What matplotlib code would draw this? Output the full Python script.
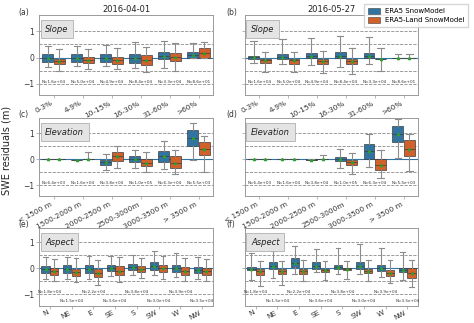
import matplotlib
matplotlib.use("Agg")
import matplotlib.pyplot as plt
from matplotlib.patches import Patch
from matplotlib.transforms import ScaledTranslation

# ---- categories -------------------------------------------------------
slope_cats = ["0-3%", "4-9%", "10-15%", "16-30%", "31-60%", ">60%"]
elev_cats = ["< 1500 m", "1500-2000 m", "2000-2500 m", "2500-3000m",
             "3000-3500 m", "> 3500 m"]
aspect_cats = ["N", "NE", "E", "SE", "S", "SW", "W", "NW"]

dates = ["2016-04-01", "2016-05-27"]
series_names = ["ERA5 SnowModel", "ERA5-Land SnowModel"]

# sample counts per class
slope_n = ["N=1.6e+04", "N=5.0e+04", "N=4.9e+04", "N=8.4e+04", "N=3.3e+04", "N=8.6e+01"]
elev_n = ["N=6.4e+03", "N=1.6e+04", "N=3.8e+04", "N=1.0e+05", "N=6.3e+04", "N=5.5e+03"]
aspect_n = ["N=1.8e+04", "N=1.5e+04", "N=2.2e+04", "N=3.6e+04",
            "N=3.8e+04", "N=3.0e+04", "N=3.9e+04", "N=3.5e+04"]

# ---- box statistics: (whisker low, q1, median, q3, whisker high) -------
slope_apr_era5 = [(-0.36, -0.15, 0.00, 0.13, 0.45), (-0.30, -0.15, 0.00, 0.15, 0.45),
                  (-0.32, -0.15, 0.00, 0.13, 0.49), (-0.41, -0.19, -0.02, 0.15, 0.60),
                  (-0.41, -0.06, 0.08, 0.22, 0.64), (0.00, 0.00, 0.10, 0.23, 0.54)]
slope_apr_land = [(-0.49, -0.26, -0.12, -0.04, 0.32), (-0.42, -0.22, -0.08, 0.04, 0.32),
                  (-0.45, -0.23, -0.08, 0.04, 0.38), (-0.55, -0.28, -0.10, 0.09, 0.42),
                  (-0.51, -0.13, 0.03, 0.19, 0.54), (0.00, 0.00, 0.18, 0.36, 0.58)]
slope_may_era5 = [(-0.22, -0.04, 0.01, 0.06, 0.64), (-0.23, -0.04, 0.04, 0.13, 0.70),
                  (-0.28, -0.03, 0.06, 0.17, 0.73), (-0.36, -0.03, 0.08, 0.23, 0.83),
                  (-0.23, -0.03, 0.07, 0.19, 0.79), (0.00, 0.00, 0.00, 0.00, 0.13)]
slope_may_land = [(-0.55, -0.22, -0.10, -0.04, 0.22), (-0.55, -0.23, -0.10, -0.04, 0.23),
                  (-0.60, -0.26, -0.12, -0.04, 0.26), (-0.64, -0.26, -0.12, -0.04, 0.35),
                  (-0.49, -0.04, -0.04, -0.04, 0.38), (0.00, 0.00, 0.00, 0.00, 0.15)]

elev_apr_era5 = [(0.00, 0.00, 0.00, 0.00, 0.00), (-0.02, -0.02, -0.02, -0.02, -0.02),
                 (-0.41, -0.22, -0.12, -0.03, 0.20), (-0.35, -0.13, 0.00, 0.13, 0.36),
                 (-0.38, -0.13, 0.10, 0.33, 0.68), (-0.03, 0.49, 0.80, 1.10, 1.38)]
elev_apr_land = [(0.00, 0.00, 0.00, 0.00, 0.00), (0.00, 0.00, 0.00, 0.00, 0.29),
                 (-0.35, -0.09, 0.10, 0.29, 0.51), (-0.51, -0.28, -0.14, 0.00, 0.29),
                 (-0.56, -0.35, -0.15, 0.10, 0.36), (-0.51, 0.17, 0.40, 0.64, 0.87)]
elev_may_era5 = [(0.00, 0.00, 0.00, 0.00, 0.00), (0.00, 0.00, 0.00, 0.00, 0.00),
                 (-0.05, -0.05, -0.03, 0.00, 0.00), (-0.35, -0.09, 0.00, 0.08, 0.38),
                 (-0.32, 0.00, 0.30, 0.59, 0.97), (0.04, 0.65, 0.98, 1.28, 1.55)]
elev_may_land = [(0.00, 0.00, 0.00, 0.00, 0.00), (0.00, 0.00, 0.00, 0.00, 0.00),
                 (0.00, 0.00, 0.00, 0.00, 0.17), (-0.56, -0.24, -0.12, -0.03, 0.23),
                 (-0.73, -0.41, -0.22, 0.00, 0.36), (-0.47, 0.10, 0.40, 0.74, 0.97)]

aspect_apr_era5 = [(-0.42, -0.19, -0.04, 0.09, 0.41), (-0.41, -0.19, -0.04, 0.10, 0.41),
                   (-0.41, -0.19, -0.02, 0.13, 0.45), (-0.32, -0.13, 0.01, 0.13, 0.45),
                   (-0.26, -0.09, 0.04, 0.15, 0.51), (-0.26, -0.06, 0.08, 0.23, 0.67),
                   (-0.36, -0.15, -0.01, 0.13, 0.58), (-0.42, -0.19, -0.06, 0.04, 0.42)]
aspect_apr_land = [(-0.51, -0.26, -0.12, 0.00, 0.36), (-0.55, -0.29, -0.15, -0.04, 0.38),
                   (-0.64, -0.36, -0.18, -0.04, 0.32), (-0.55, -0.28, -0.10, 0.06, 0.41),
                   (-0.38, -0.17, -0.04, 0.06, 0.38), (-0.42, -0.17, 0.00, 0.13, 0.45),
                   (-0.51, -0.26, -0.10, 0.04, 0.38), (-0.51, -0.28, -0.12, 0.00, 0.35)]
aspect_may_era5 = [(-0.47, -0.09, -0.02, 0.04, 0.58), (-0.38, -0.04, 0.08, 0.22, 0.64),
                   (-0.22, 0.04, 0.20, 0.38, 0.83), (-0.15, -0.03, 0.08, 0.22, 0.73),
                   (-0.22, -0.03, 0.05, 0.13, 0.77), (-0.22, -0.03, 0.08, 0.23, 0.94),
                   (-0.35, -0.13, 0.00, 0.13, 0.77), (-0.45, -0.17, -0.08, 0.00, 0.60)]
aspect_may_land = [(-0.68, -0.26, -0.12, -0.04, 0.26), (-0.64, -0.22, -0.10, -0.04, 0.26),
                   (-0.51, -0.22, -0.10, -0.04, 0.32), (-0.47, -0.15, -0.08, -0.04, 0.26),
                   (-0.42, -0.09, -0.04, 0.00, 0.28), (-0.51, -0.19, -0.10, -0.04, 0.32),
                   (-0.58, -0.32, -0.18, -0.06, 0.29), (-0.73, -0.38, -0.18, 0.00, 0.29)]

# ---- styling ----------------------------------------------------------
BLUE = "#3274a1"
ORANGE = "#d2602a"
EDGE = "#3d3d3d"
WHISK = "#8c8c8c"
SPINE = "#9a9a9a"

W, H = 474, 323
fig = plt.figure(figsize=(W / 100, H / 100), dpi=100)


def axes_px(x0, x1, y0, y1):
    return fig.add_axes([x0 / W, 1 - y1 / H, (x1 - x0) / W, (y1 - y0) / H])


cols = [(39, 213), (245, 418)]
rows = [(15, 95, (-1.42, 1.62)), (118, 196, (-1.42, 1.58)), (228, 306, (-1.46, 1.54))]

panels = [
    ("Slope", slope_cats, slope_n, [slope_apr_era5, slope_apr_land], [slope_may_era5, slope_may_land]),
    ("Elevation", elev_cats, elev_n, [elev_apr_era5, elev_apr_land], [elev_may_era5, elev_may_land]),
    ("Aspect", aspect_cats, aspect_n, [aspect_apr_era5, aspect_apr_land], [aspect_may_era5, aspect_may_land]),
]
letters = iter("abcdef")


def draw_boxes(ax, stats_list, color, offset):
    stats = [dict(whislo=s[0], q1=s[1], med=s[2], q3=s[3], whishi=s[4], mean=s[2])
             for s in stats_list]
    pos = [i + offset for i in range(len(stats))]
    ax.bxp(stats, positions=pos, widths=0.38, patch_artist=True,
           showmeans=True, showfliers=False, capwidths=0.22,
           boxprops=dict(facecolor=color, edgecolor=EDGE, linewidth=0.5),
           whiskerprops=dict(color=WHISK, linewidth=0.8),
           capprops=dict(color=WHISK, linewidth=0.8),
           medianprops=dict(color=EDGE, linewidth=0.5),
           meanprops=dict(marker="^", markerfacecolor="#2ca02c",
                          markeredgecolor="#2ca02c", markersize=1.6),
           manage_ticks=False, zorder=3)


for r, (title_txt, cats, ncounts, apr, may) in enumerate(panels):
    y0, y1, ylim = rows[r]
    for c, data in enumerate([apr, may]):
        ax = axes_px(cols[c][0], cols[c][1], y0, y1)
        n = len(cats)
        ax.set_xlim(-0.5, n - 0.5)
        ax.set_ylim(*ylim)
        for yv in (-1, -0.5, 0.5, 1):
            ax.axhline(yv, color="#8a8a8a", ls="--", lw=0.6, zorder=1)
        ax.axhline(0, color=BLUE, lw=0.8, zorder=2)
        draw_boxes(ax, data[0], BLUE, -0.2)
        draw_boxes(ax, data[1], ORANGE, 0.2)

        ax.set_xticks(range(n))
        ax.set_xticklabels(cats, rotation=28, ha="right", fontsize=5.3,
                           color="#333333")
        if title_txt == "Elevation":
            shift = ScaledTranslation(-8 / 100, 0, fig.dpi_scale_trans)
            for lab in ax.get_xticklabels():
                lab.set_transform(lab.get_transform() + shift)
        ax.set_yticks([-1, 0, 1])
        if c == 0:
            ax.set_yticklabels(["\u22121", "0", "1"], fontsize=5.5, color="#333333")
        else:
            ax.set_yticklabels([])
        ax.tick_params(axis="y", length=2, width=0.5, color=SPINE, pad=1.5)
        ax.tick_params(axis="x", length=2, width=0.5, color=SPINE,
                       pad=0.5 if title_txt == "Aspect" else 1.5)
        for sp in ax.spines.values():
            sp.set_color(SPINE)
            sp.set_linewidth(0.7)

        # sample counts
        for i, t in enumerate(ncounts):
            if title_txt == "Aspect" and i % 2 == 1:
                yy = -1.25
            else:
                yy = -0.92
            ax.text(i, yy, t, ha="center", va="center", fontsize=3,
                    color="#333333", zorder=4)

        ax.text(0.035, 0.82, title_txt, transform=ax.transAxes, fontsize=6,
                style="italic", va="center", ha="left", color="#222222",
                bbox=dict(boxstyle="square,pad=0.55", facecolor="#e4e4e4",
                          edgecolor="#b0b0b0", linewidth=0.6), zorder=5)

        if r == 0:
            ax.set_title(dates[c], fontsize=6, pad=2.5, color="#222222")

        lx = 18 if c == 0 else 226
        fig.text(lx / W, 1 - (y0 - 3) / H, "(%s)" % next(letters), fontsize=5.5,
                 ha="left", va="center", color="#333333")

fig.text(7 / W, 1 - 150 / H, "SWE residuals (m)", rotation=90, fontsize=7,
         ha="center", va="center", color="#222222")

handles = [Patch(facecolor=BLUE, edgecolor=EDGE, linewidth=0.4),
           Patch(facecolor=ORANGE, edgecolor=EDGE, linewidth=0.4)]
fig.legend(handles, series_names, loc="upper right",
           bbox_to_anchor=(471 / W, 1 - 1 / H), fontsize=5, frameon=True,
           handlelength=1.8, handleheight=1.0, handletextpad=0.6,
           borderpad=0.5, labelspacing=0.35,
           edgecolor="#cccccc", fancybox=False)

fig.savefig("out.png", dpi=100)
